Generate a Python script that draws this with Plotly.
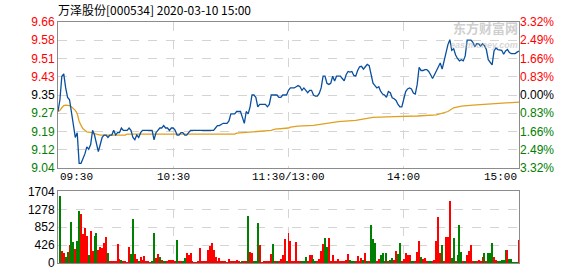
import plotly.graph_objects as go

# ---------------- data ----------------
minutes = list(range(241))

price = [
    9.28, 9.33, 9.43, 9.44, 9.38, 9.34, 9.33, 9.27, 9.21, 9.17,
    9.19, 9.06, 9.06, 9.08, 9.10, 9.13, 9.12, 9.14, 9.20, 9.18,
    9.15, 9.11, 9.14, 9.17, 9.18, 9.18, 9.17, 9.18, 9.18, 9.20,
    9.18, 9.19, 9.19, 9.21, 9.20, 9.20, 9.20, 9.21, 9.20, 9.17,
    9.16, 9.18, 9.17, 9.19, 9.20, 9.20, 9.20, 9.20, 9.20, 9.20,
    9.16, 9.19, 9.20, 9.21, 9.21, 9.22, 9.21, 9.21, 9.20, 9.21,
    9.21, 9.20, 9.18, 9.18, 9.19, 9.19, 9.18, 9.18, 9.19, 9.20,
    9.20, 9.20, 9.20, 9.20, 9.20, 9.20, 9.20, 9.20, 9.20, 9.20,
    9.20, 9.20, 9.21, 9.22, 9.22, 9.225, 9.23, 9.23, 9.23, 9.24,
    9.27, 9.27, 9.27, 9.28, 9.28, 9.28, 9.255, 9.23, 9.28, 9.27,
    9.30, 9.35, 9.35, 9.34, 9.30, 9.31, 9.31, 9.31, 9.31, 9.30,
    9.31, 9.35, 9.35, 9.35, 9.35, 9.34, 9.34, 9.35, 9.35, 9.35,
    9.37, 9.38, 9.38, 9.38, 9.385, 9.39, 9.385, 9.37, 9.38, 9.37,
    9.36, 9.37, 9.37, 9.35, 9.345, 9.345, 9.357, 9.38, 9.43, 9.43,
    9.40, 9.395, 9.40, 9.43, 9.41, 9.43, 9.43, 9.43, 9.42, 9.41,
    9.436, 9.45, 9.447, 9.45, 9.433, 9.43, 9.454, 9.47, 9.472, 9.46,
    9.47, 9.48, 9.475, 9.43, 9.40, 9.39, 9.38, 9.385, 9.365, 9.354,
    9.35, 9.34, 9.365, 9.36, 9.338, 9.334, 9.327, 9.31, 9.30, 9.30,
    9.33, 9.365, 9.376, 9.38, 9.376, 9.358, 9.354, 9.395, 9.468, 9.454,
    9.454, 9.458, 9.458, 9.45, 9.436, 9.42, 9.436, 9.454, 9.475, 9.486,
    9.46, 9.495, 9.527, 9.564, 9.585, 9.54, 9.546, 9.52, 9.505, 9.495,
    9.50, 9.495, 9.516, 9.583, 9.583, 9.583, 9.574, 9.555, 9.568, 9.567,
    9.557, 9.568, 9.56, 9.543, 9.50, 9.49, 9.478, 9.537, 9.55, 9.543,
    9.54, 9.54, 9.523, 9.537, 9.543, 9.53, 9.526, 9.526, 9.526, 9.532, 9.537,
]

avg_minutes = [0, 1, 2, 3, 4, 5, 6, 7, 8, 9, 10, 11, 12, 13, 14, 15, 17, 19, 20, 22,
               35, 36, 92, 93, 99, 104, 111, 113, 120, 121, 125, 133, 138, 141, 146,
               155, 160, 164, 175, 180, 187, 197, 200, 203, 206, 210, 216, 225, 233, 240]
avg_price = [9.28, 9.285, 9.296, 9.305, 9.307, 9.307, 9.305, 9.30, 9.292, 9.285,
             9.272, 9.239, 9.221, 9.207, 9.20, 9.194, 9.191, 9.188, 9.184, 9.18,
             9.18, 9.184, 9.184, 9.188, 9.192, 9.196, 9.20, 9.205, 9.21, 9.214,
             9.218, 9.221, 9.228, 9.233, 9.237, 9.242, 9.248, 9.255, 9.258, 9.259,
             9.261, 9.266, 9.273, 9.28, 9.296, 9.303, 9.307, 9.313, 9.317, 9.32]

volume = [
    0,
    1580, 285, 230, 140, 255, 410, 970, 485, 325, 525,
    1225, 1165, 670, 830, 625, 185, 740, 280, 625, 695,
    300, 370, 345, 460, 600, 230, 25, 25, 25, 25,
    440, 90, 70, 25, 25, 10, 370, 210, 1040, 210,
    90, 25, 140, 70, 160, 25, 25, 5, 25, 695,
    115, 210, 140, 70, 25, 25, 25, 70, 70,
    70, 20, 530, 20, 20, 45, 115, 230, 185, 230,
    20, 5, 5, 20, 345, 20, 20, 45, 300, 395,
    460, 300, 140, 20, 115, 20, 20, 20, 5, 90,
    45, 20, 20, 70, 20, 5, 20, 20, 20, 1110,
    255, 230, 20, 20, 950, 415, 5, 20, 20, 20,
    45, 210, 440, 20, 20, 45, 90, 185, 555, 20,
    715, 510, 20, 45, 485, 20, 20, 20, 20, 140,
    20, 185, 185, 90, 45, 20, 90, 280, 440, 580,
    370, 580, 45, 185, 20, 20, 90, 20, 20, 20,
    70, 210, 70, 20, 20, 20, 160, 20, 115, 70,
    230, 20, 20, 900, 555, 460, 20, 90, 185, 230,
    20, 230, 45, 70, 115, 70, 280, 210, 460, 20,
    90, 230, 185, 185, 45, 45, 20, 255, 510, 140,
    90, 115, 20, 45, 20, 20, 70, 510, 1090, 230,
    415, 45, 600, 600, 1460, 115, 580, 45, 185, 900,
    255, 45, 20, 185, 280, 415, 20, 20, 20, 70,
    45, 140, 230, 20, 230, 230, 460, 140, 70, 20,
    45, 70, 70, 300, 300, 90, 90, 5, 5, 5, 530,
]

vol_dir = (
    "R" + "GRRGGRGGRG" + "GRRRRGRRGG" + "RRRRRGRRRR" + "RRGRRRRGGR" + "RGRRRRRRGG" + "RRGRGGRRR"
    + "RRGRRGGRRR" + "RRRRRRRRRR" + "RRRRRRRRRR" + "RRRRRRGRRG" + "RRGGGRRRRR" + "RRGRGRRRRG"
    + "RRRRRRRGGG" + "RRRGGRRRRG" + "GRRRRRRRRR" + "RRGGGRRRRG" + "RGRGGGRRGG" + "RGRGGRRGGR"
    + "RRRRGGRRRG" + "RRRGGRRRRR" + "GRRRRGGRGG" + "GRGRRRRGRR" + "RRGRGGGRRG" + "GGGGRGGGGGR"
)

prev_close = 9.35
price_ticks = [9.66, 9.58, 9.51, 9.43, 9.35, 9.27, 9.19, 9.12, 9.04]
pct_ticks = ["3.32%", "2.49%", "1.66%", "0.83%", "0.00%", "0.83%", "1.66%", "2.49%", "3.32%"]
vol_ticks = [0, 426, 852, 1278, 1704]
time_labels = ["09:30", "10:30", "11:30/13:00", "14:00", "15:00"]
title_text = "万泽股份[000534] 2020-03-10 15:00"

# ---------------- styling ----------------
RED = "#ff0000"
GREEN = "#008000"
BORDER = "#8c8c8c"
GRID = "#d4d4d4"
TICKFONT = dict(family="Liberation Sans, Arial, sans-serif", size=12)

half = (price_ticks[0] - price_ticks[-1]) / 2
tick_pos = [prev_close + half * (4 - i) / 4 for i in range(9)]


def colored(txt, i):
    c = RED if i < 4 else ("#000000" if i == 4 else GREEN)
    return f'<span style="color:{c}">{txt}</span>'


price_text = [colored(f"{v:.2f}", i) for i, v in enumerate(price_ticks)]
pct_text = [colored(t, i) for i, t in enumerate(pct_ticks)]

fig = go.Figure()

fig.add_trace(go.Scatter(x=minutes, y=price, mode="lines", xaxis="x", yaxis="y3",
                         line=dict(color="rgba(0,0,0,0)"), hoverinfo="skip", showlegend=False))
fig.add_trace(go.Scatter(x=avg_minutes, y=avg_price, mode="lines", xaxis="x", yaxis="y",
                         line=dict(color="#e0a020", width=1.3), showlegend=False))
fig.add_trace(go.Scatter(x=minutes, y=price, mode="lines", xaxis="x", yaxis="y",
                         line=dict(color="#0a4f9e", width=1.3), showlegend=False))
fig.add_trace(go.Bar(x=minutes, y=volume, xaxis="x2", yaxis="y2", width=0.52,
                     marker=dict(color=[RED if d == "R" else GREEN for d in vol_dir], line=dict(width=0)),
                     showlegend=False))

common_x = dict(range=[0, 240], tickvals=[60, 120, 180], showgrid=True, gridcolor=GRID,
                griddash="dash", gridwidth=1, showticklabels=False, ticks="",
                showline=True, mirror=True, linecolor=BORDER, linewidth=1, zeroline=False)

fig.update_layout(
    width=578, height=276,
    margin=dict(l=58, r=59, t=22, b=6),
    paper_bgcolor="white", plot_bgcolor="white",
    bargap=0,
    xaxis=dict(domain=[0, 1], anchor="y", **common_x),
    xaxis2=dict(domain=[0, 1], anchor="y2", **common_x),
    yaxis=dict(domain=[0.394, 1], range=[price_ticks[-1], price_ticks[0]], tickvals=tick_pos,
               ticktext=price_text, tickfont=TICKFONT, showgrid=True, gridcolor=GRID,
               griddash="dash", showline=True, mirror=True, linecolor=BORDER, linewidth=1,
               zeroline=False, ticks=""),
    yaxis3=dict(overlaying="y", side="right", anchor="x", range=[price_ticks[-1], price_ticks[0]],
                tickvals=tick_pos, ticktext=pct_text, tickfont=TICKFONT, showgrid=False,
                showline=False, zeroline=False, ticks=""),
    yaxis2=dict(domain=[0, 0.297], range=[0, vol_ticks[-1]], tickvals=vol_ticks,
                ticktext=[str(v) for v in vol_ticks], tickfont=dict(TICKFONT, color="#000"),
                showgrid=True, gridcolor=GRID, griddash="dash", showline=True, mirror=True,
                linecolor=BORDER, linewidth=1, zeroline=False, ticks=""),
)

ann = []
ann.append(dict(text=title_text, xref="paper", yref="paper", x=-0.004, y=1.052,
                xanchor="left", yanchor="middle", showarrow=False,
                font=dict(family="Noto Sans CJK SC", size=12, color="#000")))
tx = [0, 60 / 240, 120 / 240, 180 / 240, 1]
anch = ["left", "center", "center", "center", "right"]
for t, x, a in zip(time_labels, tx, anch):
    ann.append(dict(text=t, xref="paper", yref="paper", x=x, y=0.355, xanchor=a, yanchor="middle",
                    showarrow=False, font=dict(family="Liberation Mono, monospace", size=11, color="#000")))
ann.append(dict(text="<b>东方财富网</b>", xref="paper", yref="paper", x=1.0, y=0.978,
                xanchor="right", yanchor="middle", showarrow=False, opacity=0.55, borderpad=0,
                font=dict(family="Noto Sans CJK SC", size=13, color="#a8a8a8")))
ann.append(dict(text="<b><i>eastmoney.com</i></b>", xref="paper", yref="paper", x=1.0, y=0.905,
                xanchor="right", yanchor="middle", showarrow=False, opacity=0.5, borderpad=0,
                font=dict(family="Liberation Sans", size=9, color="#b0b0b0")))
fig.update_layout(annotations=ann)

fig.write_html("out.html")
